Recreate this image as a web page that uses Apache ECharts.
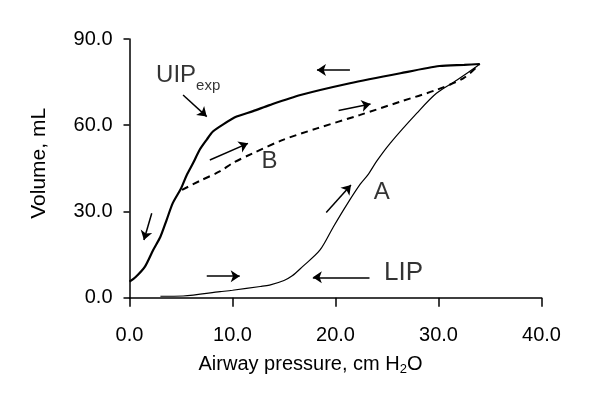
<!DOCTYPE html>
<html><head><meta charset="utf-8">
<script src="https://cdn.jsdelivr.net/npm/echarts@6/dist/echarts.min.js"></script>
<style>html,body{margin:0;padding:0;background:#fff}#c{width:600px;height:414px}</style>
</head><body><div id="c"></div>
<script>
var xTicks = [0, 10, 20, 30, 40];
var yTicks = [0, 30, 60, 90];
// Deflation limb (upper solid curve)
var deflation = [[34.0,81.3],[32.5,81.0],[30.1,80.6],[26.3,78.1],[21.4,74.6],[16.6,70.5],[13.6,67.0],[12.0,64.9],[10.4,63.0],[9.1,60.3],[8.1,57.8],[7.5,55.0],[6.8,51.4],[6.2,47.0],[5.55,42.6],[5.0,38.0],[4.2,32.9],[3.6,27.0],[3.0,21.2],[2.3,16.6],[1.5,10.8],[0.6,7.2],[0.0,5.6]];
// Inflation limb A (thin solid curve)
var inflationA = [[3.0,0.5],[5.2,0.6],[8.8,2.1],[10.0,2.6],[12.7,3.9],[13.6,4.4],[15.0,6.0],[15.8,7.6],[16.8,10.8],[18.5,16.6],[19.8,24.7],[21.1,32.4],[22.4,39.5],[23.2,43.0],[24.0,47.5],[25.3,53.7],[27.9,64.2],[29.8,71.1],[31.8,75.7],[33.7,80.4],[34.0,81.3]];
// Inflation B (dashed)
var inflationB = [[5.1,37.5],[6.8,40.6],[8.8,44.0],[10.0,46.8],[12.0,50.3],[14.9,54.9],[18.2,58.9],[22.4,63.6],[26.3,68.2],[29.8,72.3],[32.4,76.3],[34.0,81.3]];
// Direction arrows [start, end]
var arrows = [
  [[21.4,79.2],[18.2,79.2]],
  [[20.3,65.1],[23.4,67.4]],
  [[7.8,47.9],[11.5,53.7]],
  [[5.2,70.5],[7.5,63.0]],
  [[2.16,29.4],[1.4,20.1]],
  [[7.5,7.5],[10.7,7.5]],
  [[19.1,29.6],[21.5,39.2]],
  [[23.3,7.1],[17.8,7.1]]
];
// Annotation labels [x, y, text]
var notes = [
  [5.7, 77.5, '{a|UIP}{b|exp}'],
  [13.6, 47.5, '{a|B}'],
  [24.5, 36.6, '{a|A}'],
  [26.6, 8.7, '{c|LIP}']
];

var font = '"Liberation Sans", Arial, sans-serif';
var chart = echarts.init(document.getElementById('c'), null, {renderer:'canvas'});
chart.setOption({
  animation: false,
  backgroundColor: '#fff',
  grid: {left: 129.5, right: 58.5, top: 39, bottom: 116.3},
  xAxis: {
    type: 'value', min: 0, max: 40, interval: 10,
    name: '{t|Airway pressure, cm H}{s|2}{t|O}',
    nameLocation: 'middle', nameGap: 55,
    nameTextStyle: {padding: [0, 50, 0, 0], rich: {
      t: {fontSize: 20, fontFamily: font, color: '#000'},
      s: {fontSize: 13, fontFamily: font, color: '#000', padding: [10, 0, 0, 0]}
    }},
    axisLine: {lineStyle: {color: '#000', width: 1.5}},
    axisTick: {show: true, length: 9, lineStyle: {color: '#000', width: 1.5}},
    axisLabel: {margin: 28, fontSize: 20, fontFamily: font, color: '#000', formatter: function(v){return v.toFixed(1);}},
    splitLine: {show: false}
  },
  yAxis: {
    type: 'value', min: 0, max: 90, interval: 30,
    name: 'Volume, mL', nameLocation: 'middle', nameGap: 80,
    nameTextStyle: {fontSize: 21, fontFamily: font, color: '#000', padding: [0, 0, 0, 10]},
    axisLine: {show: true, lineStyle: {color: '#000', width: 1.5}},
    axisTick: {show: true, length: 6, lineStyle: {color: '#000', width: 1.5}},
    axisLabel: {margin: 17, fontSize: 20, fontFamily: font, color: '#000', formatter: function(v){return v.toFixed(1);}},
    splitLine: {show: false}
  },
  series: [
    {type: 'line', data: deflation, smooth: 0.25, symbol: 'none', lineStyle: {color: '#000', width: 2.2}},
    {type: 'line', data: inflationA, smooth: 0.3, symbol: 'none', lineStyle: {color: '#000', width: 1.2}},
    {type: 'line', data: inflationB, smooth: 0.3, symbol: 'none', lineStyle: {color: '#000', width: 2, type: [7, 5]}},
    {type: 'lines', coordinateSystem: 'cartesian2d', symbol: ['none', 'arrow'], symbolSize: 9,
      lineStyle: {color: '#000', width: 1.5, opacity: 1},
      data: arrows.map(function(a){return {coords: a};})},
    {type: 'scatter', symbolSize: 0, silent: true,
      data: notes.map(function(n){return {value: [n[0], n[1]], label: {show: true, formatter: n[2]}};}),
      label: {show: true, position: 'inside', color: '#000', rich: {
        a: {fontSize: 24, fontFamily: font, color: '#000', lineHeight: 28},
        c: {fontSize: 26, fontFamily: font, color: '#000', lineHeight: 30},
        b: {fontSize: 15, fontFamily: font, color: '#000', padding: [22, 0, 0, 0]}
      }}}
  ]
});
</script></body></html>
